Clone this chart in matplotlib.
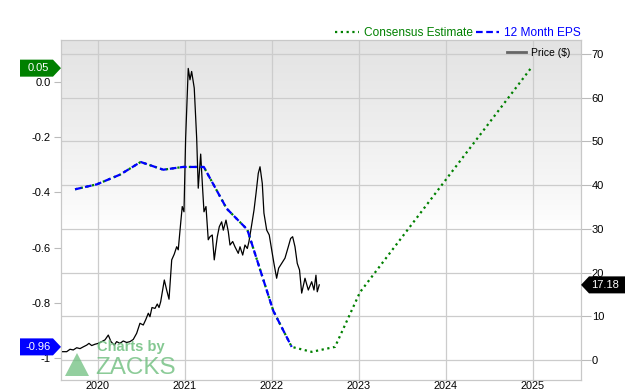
import numpy as np
import matplotlib.pyplot as plt
from matplotlib.patches import Polygon
from matplotlib.lines import Line2D
from matplotlib.colors import LinearSegmentedColormap

plt.rcParams['font.family'] = ['Liberation Sans', 'DejaVu Sans']

# price ($), weekly-ish, dates as decimal years
price_dates = [2019.578, 2019.644, 2019.682, 2019.720, 2019.759, 2019.797, 2019.834, 2019.874,
               2019.900, 2019.931, 2019.969, 2020.007, 2020.046, 2020.084, 2020.122, 2020.153,
               2020.191, 2020.218, 2020.256, 2020.294, 2020.333, 2020.371, 2020.409, 2020.448,
               2020.486, 2020.524, 2020.552, 2020.582, 2020.601, 2020.624, 2020.659, 2020.685,
               2020.705, 2020.724, 2020.766, 2020.793, 2020.820, 2020.851, 2020.880, 2020.908,
               2020.926, 2020.954, 2020.972, 2020.992, 2021.011, 2021.041, 2021.061, 2021.080,
               2021.110, 2021.138, 2021.156, 2021.184, 2021.207, 2021.222, 2021.245, 2021.271,
               2021.291, 2021.317, 2021.340, 2021.375, 2021.398, 2021.425, 2021.444, 2021.475,
               2021.501, 2021.521, 2021.552, 2021.578, 2021.616, 2021.636, 2021.667, 2021.693,
               2021.720, 2021.739, 2021.770, 2021.797, 2021.820, 2021.846, 2021.866, 2021.892,
               2021.911, 2021.943, 2021.972, 2022.000, 2022.026, 2022.057, 2022.080, 2022.115,
               2022.153, 2022.191, 2022.218, 2022.241, 2022.268, 2022.294, 2022.320, 2022.345,
               2022.383, 2022.421, 2022.460, 2022.486, 2022.509, 2022.524, 2022.547]
price_vals = [1.9, 1.9, 2.45, 2.3, 2.8, 2.6, 3.0, 3.4,
              3.8, 3.3, 3.6, 3.8, 4.2, 4.6, 5.7, 4.2,
              3.4, 4.2, 3.8, 4.35, 4.0, 4.2, 4.7, 6.1,
              8.4, 8.0, 9.2, 10.7, 9.9, 12.0, 11.8, 12.8,
              12.0, 13.3, 18.3, 16.0, 13.9, 22.9, 24.2, 25.9,
              25.2, 31.3, 35.1, 33.9, 50.7, 66.7, 64.1, 66.0,
              62.2, 50.7, 39.3, 47.1, 38.9, 33.9, 35.1, 27.5,
              28.2, 28.6, 22.9, 28.2, 30.5, 31.6, 29.7, 32.0,
              29.4, 26.3, 27.1, 25.9, 24.4, 25.9, 24.0, 26.3,
              25.5, 27.1, 30.9, 34.3, 38.1, 42.7, 44.2, 40.4,
              33.6, 29.7, 28.6, 25.2, 22.1, 18.7, 21.0, 22.1,
              23.3, 25.9, 27.8, 28.2, 25.9, 22.1, 20.6, 15.3,
              18.7, 16.0, 17.9, 16.0, 19.4, 15.6, 17.18]

eps_dates = [2019.74, 2019.99, 2020.256, 2020.494, 2020.754, 2020.98, 2021.22,
             2021.483, 2021.72, 2022.018, 2022.23]
eps_vals = [-0.389, -0.371, -0.336, -0.29, -0.318, -0.308, -0.308,
            -0.459, -0.535, -0.829, -0.96]

est_dates = [2022.23, 2022.46, 2022.728, 2023.015, 2024.98]
est_vals = [-0.96, -0.978, -0.96, -0.762, 0.05]

years = [2020, 2021, 2022, 2023, 2024, 2025]
price_ticks = [0, 10, 20, 30, 40, 50, 60, 70]
eps_ticks = [0.0, -0.2, -0.4, -0.6, -0.8, -1.0]
eps_labels = ['0.0', '-0.2', '-0.4', '-0.6', '-0.8', '-1']

W, H = 640, 390
fig = plt.figure(figsize=(6.4, 3.9), dpi=100)
ax = fig.add_axes([60.7 / W, 10 / H, 520 / W, 340 / H])

# grey-to-white background
cmap = LinearSegmentedColormap.from_list('bg', ['#ffffff', '#e3e3e3'])
grad = np.clip((np.linspace(0, 1, 256) - 0.45) / 0.55, 0, 1).reshape(-1, 1) ** 0.8
ax.imshow(grad, cmap=cmap, aspect='auto', extent=[0, 1, 0, 1], origin='lower',
          transform=ax.transAxes, zorder=0)

ax.plot(price_dates, price_vals, color='black', lw=0.9, zorder=3)
ax.set_xlim(2019.575, 2025.552)
ax.set_ylim(-4.58, 73.2)
ax.set_xticks(years)
ax.set_xticklabels([str(y) for y in years])
ax.tick_params(axis='x', length=0, pad=1, labelsize=7.8)
ax.grid(color='#cccccc', lw=0.9)
ax.set_axisbelow(True)
for s in ax.spines.values():
    s.set_color('#c8c8c8')

ax.legend(handles=[Line2D([], [], color='#666666', lw=2)], labels=['Price ($)'],
          loc='upper right', bbox_to_anchor=(0.998, 1.005), frameon=False, fontsize=7.5,
          handlelength=1.8, handletextpad=0.5)

ax2 = ax.twinx()
ax2.patch.set_visible(False)
ax2.yaxis.tick_left()
ax2.set_ylim(-1.08, 0.152)
ax2.set_yticks(eps_ticks)
ax2.set_yticklabels(eps_labels)
ax2.tick_params(axis='y', length=5, color='#bbbbbb', labelsize=8, pad=2)
for s in ax2.spines.values():
    s.set_color('#c8c8c8')

# price axis on the right (twinx moves it left, so set it again)
ax.yaxis.tick_right()
ax.set_yticks(price_ticks)
ax.tick_params(axis='y', length=7, color='#bbbbbb', labelsize=8, pad=1)

ax2.plot(eps_dates + est_dates[1:], eps_vals + est_vals[1:], color='#008000',
         lw=1.6, ls=(0, (1, 1.6)), zorder=4)
ax2.plot(eps_dates, eps_vals, color='#0000ff', lw=1.6, ls=(0, (3, 1.6)), zorder=5)

h_est = Line2D([], [], color='#008000', lw=1.6, ls=(0, (1, 1.6)))
h_eps = Line2D([], [], color='#0000ff', lw=1.6, ls=(0, (3, 1.6)))
ax2.legend(handles=[h_est, h_eps], labels=['Consensus Estimate', '12 Month EPS'],
           loc='lower right', bbox_to_anchor=(1.012, 0.985), ncol=2, frameon=False,
           fontsize=8.6, handlelength=2.0, handletextpad=0.4, columnspacing=0.2,
           borderaxespad=0.1, labelcolor=['#008000', '#0000ff'])


def tag(ypix, color, text, side):
    h = 8.5
    if side == 'left':
        pts = [(20, ypix - h), (53, ypix - h), (61, ypix), (53, ypix + h), (20, ypix + h)]
        tx = 38
    else:
        pts = [(581, ypix), (589, ypix - h), (625, ypix - h), (625, ypix + h), (589, ypix + h)]
        tx = 605
    fig.add_artist(Polygon([(x / W, y / H) for x, y in pts], closed=True,
                           transform=fig.transFigure, facecolor=color, edgecolor='none'))
    fig.text(tx / W, ypix / H, text, color='white', fontsize=8, ha='center', va='center')


tag(ax2.transData.transform((2020, est_vals[-1]))[1], '#008000', '0.05', 'left')
tag(ax2.transData.transform((2020, eps_vals[-1]))[1], '#0000ff', '-0.96', 'left')
tag(ax.transData.transform((2020, price_vals[-1]))[1], 'black', '17.18', 'right')

# watermark
wm = '#6fbf7f'
fig.text(97 / W, (H - 347) / H, 'Charts by', color=wm, alpha=0.85, fontsize=10.5,
         fontweight='bold', ha='left', va='center')
fig.text(95 / W, (H - 368) / H, 'ZACKS', color=wm, alpha=0.8, fontsize=17.5,
         ha='left', va='center')
fig.add_artist(Polygon([(65 / W, (H - 376) / H), (89 / W, (H - 376) / H), (77 / W, (H - 353) / H)],
                       closed=True, transform=fig.transFigure, facecolor=wm, alpha=0.75,
                       edgecolor='none'))

fig.savefig('out.png', dpi=100)
